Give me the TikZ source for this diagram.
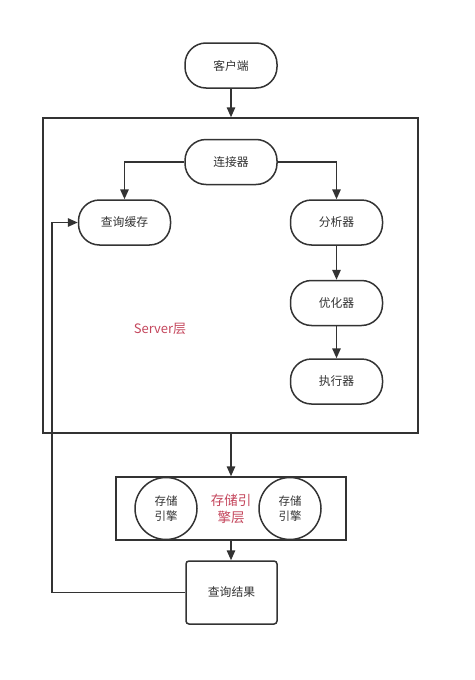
\documentclass[tikz,border=0pt]{standalone}
\usepackage{fontspec}
\setmainfont{Noto Sans CJK SC}
\usetikzlibrary{arrows.meta}
\definecolor{layerred}{RGB}{196,70,92}
\definecolor{inkgray}{RGB}{51,51,51}

\begin{document}
\begin{tikzpicture}[x=1pt,y=1pt,yscale=-1,xscale=1,
  term/.style={draw=inkgray, line width=1.5pt, rounded corners=21pt, minimum width=92pt, minimum height=45pt, inner sep=0pt, font=\fontsize{11.8}{14}\selectfont, text=inkgray},
  engine/.style={draw=inkgray, line width=1.5pt, circle, minimum size=62pt, inner sep=0pt, align=center, font=\fontsize{11.5}{15}\selectfont, text=inkgray},
  layer/.style={draw=inkgray, line width=1.5pt, inner sep=0pt},
  flow/.style={draw=inkgray, line width=1.5pt, -{Triangle[length=10pt,width=8.5pt]}}]
\useasboundingbox (0,0) rectangle (474,680);

% Server layer frame
\node (server) [layer, minimum width=375pt, minimum height=315pt] at (230.5,275.5) {};
\node (servertext) [text=layerred, font=\fontsize{13}{15}\selectfont] at (160,329) {Server层};

% Boxes
\node (client) [term] at (231,65.5) {客户端};
\node (conn) [term] at (231,162) {连接器};
\node (cache) [term] at (124.5,222.5) {查询缓存};
\node (parser) [term] at (336.5,222.5) {分析器};
\node (optimizer) [term] at (336.5,303) {优化器};
\node (executor) [term] at (336.5,381.5) {执行器};

% Storage engine layer
\node (storage) [layer, minimum width=230pt, minimum height=63pt] at (231,508.5) {};
\node (engineA) [engine] at (166,508.5) {存储\\引擎};
\node (engineB) [engine] at (290,508.5) {存储\\引擎};
\node (storagetext) [text=layerred, align=center, font=\fontsize{13.5}{17}\selectfont] at (231,508.5) {存储引\\擎层};

\node (result) [draw=inkgray, line width=1.5pt, rounded corners=3pt, minimum width=91pt, minimum height=63pt, inner sep=0pt, font=\fontsize{11.8}{14}\selectfont, text=inkgray] at (231.5,592.5) {查询结果};

\coordinate (back) at (52,0);

% Arrows
\draw [flow] (client.south) -- (client.south |- server.north);
\draw [flow] (conn.west) -| (cache.north);
\draw [flow] (conn.east) -| (parser.north);
\draw [flow] (parser) -- (optimizer);
\draw [flow] (optimizer) -- (executor);
\draw [flow] (server.south -| storage.north) -- (storage.north);
\draw [flow] (storage.south) -- (storage.south |- result.north);
\draw [flow] (result.west) -- (result.west -| back) |- (cache.west);

\end{tikzpicture}
\end{document}
